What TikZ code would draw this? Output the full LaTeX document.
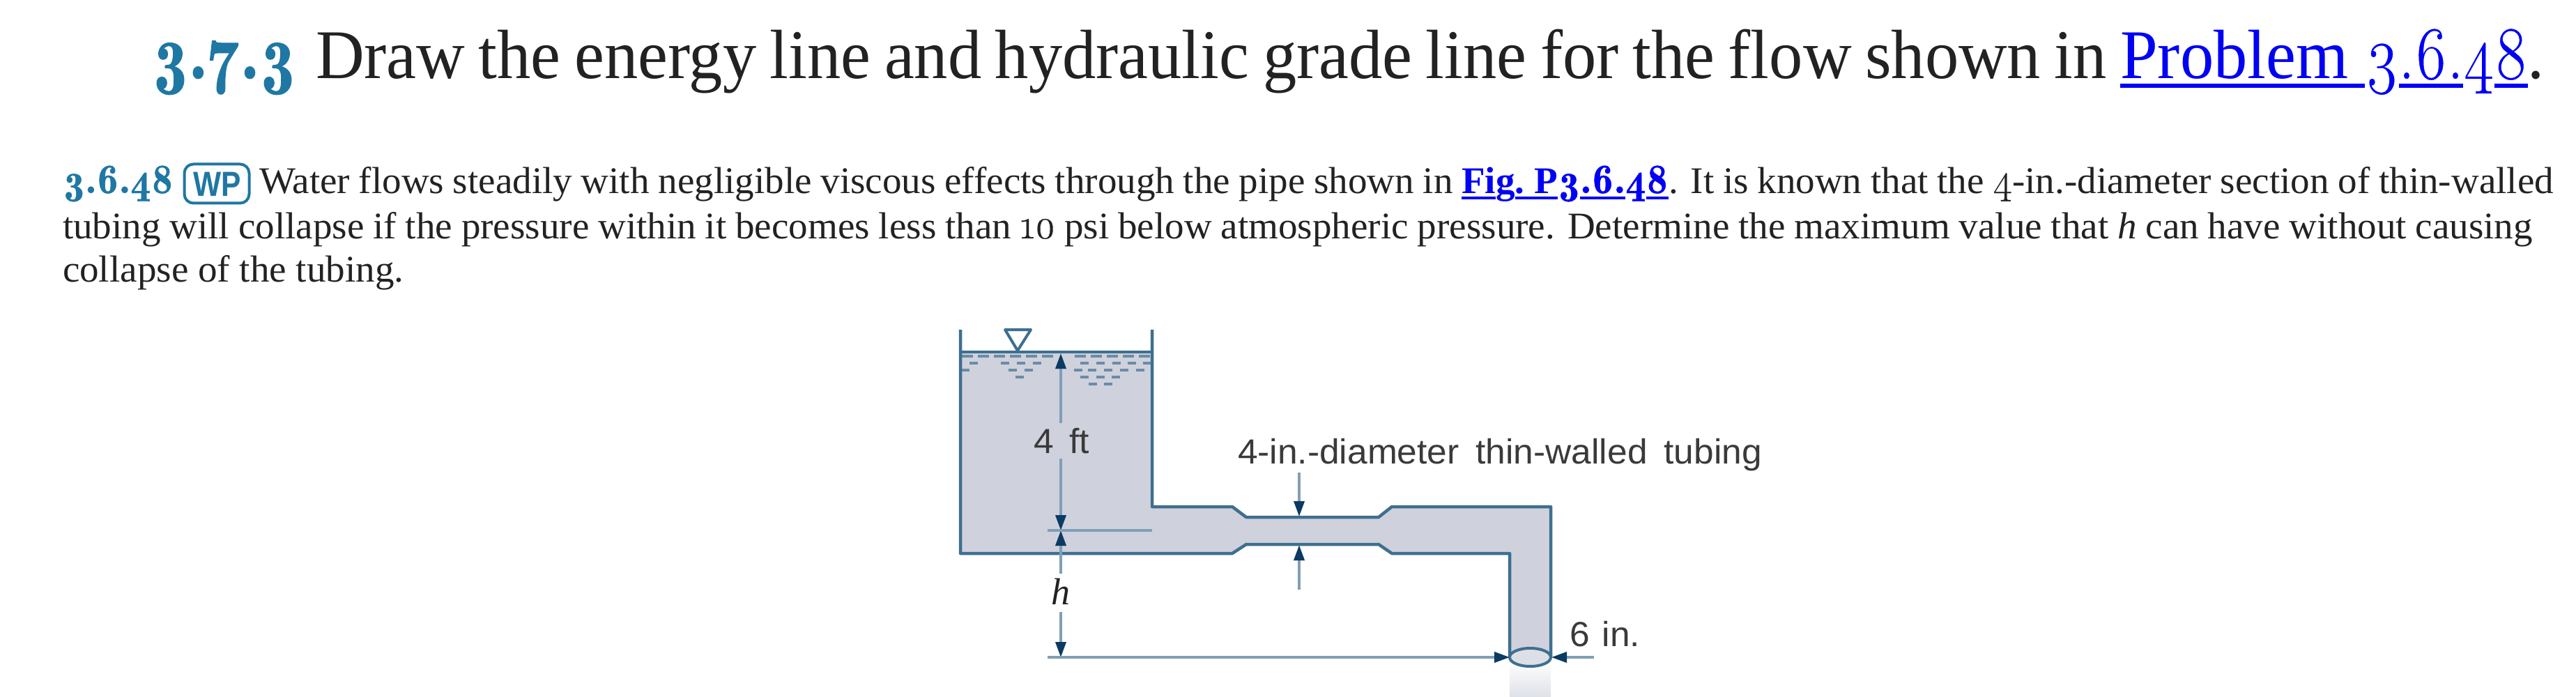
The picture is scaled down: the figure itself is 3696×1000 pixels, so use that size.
\documentclass[tikz,border=0pt]{standalone}
\usepackage{fontspec}
\usetikzlibrary{arrows.meta}
\setmainfont{Liberation Serif}
\newfontfamily\titlefam{Liberation Serif}[FakeStretch=0.965]
\newfontfamily\bodyfam{Liberation Serif}[FakeStretch=1.02]
\newfontfamily\numfam{Latin Modern Roman}[Numbers=OldStyle,FakeBold=0.6,FakeStretch=0.95]
\newfontfamily\numbfam{Latin Modern Roman Demi}[Numbers=OldStyle,FakeBold=0.8,FakeStretch=0.84]
\newfontfamily\numbodyfam{Latin Modern Roman Demi}[Numbers=OldStyle,FakeBold=0.8,FakeStretch=0.96]
\newfontfamily\numtfam{Latin Modern Roman}[Numbers=OldStyle,FakeBold=0.4,FakeStretch=0.84]
\newfontfamily\sansfam{Liberation Sans}[FakeStretch=1.03]
\newfontfamily\wpfam{Liberation Sans}[FakeStretch=0.85]
\definecolor{teal1}{HTML}{1F77A3}
\definecolor{linkblue}{HTML}{0000F5}
\definecolor{ink}{HTML}{222222}
\definecolor{wall}{HTML}{3E6F90}
\definecolor{dimc}{HTML}{7F9FB5}
\definecolor{headc}{HTML}{0B3A63}
\definecolor{waterc}{HTML}{CFD1DC}
\definecolor{sansc}{HTML}{3A3A3A}
% underline with a rule under the given text
\newcommand{\ulpart}[1]{\sbox0{#1}\rlap{\rule[-9pt]{\wd0}{4pt}}\box0\relax}
\newcommand{\ulparttitle}[1]{\sbox0{#1}\rlap{\rule[-13pt]{\wd0}{6pt}}\box0\relax}
\newcommand{\odig}[1]{{\numfam\fontsize{60}{62}\selectfont #1}}
\newcommand{\odigb}[1]{{\numbodyfam\fontsize{60}{62}\selectfont #1}}
\newcommand{\odigt}[1]{{\numtfam\fontsize{108}{120}\selectfont #1}}
\tikzset{
  x=1pt,y=-1pt,
  txt/.style={anchor=base west,inner sep=0pt,outer sep=0pt,text=ink},
  titletxt/.style={txt,font=\titlefam\fontsize{100}{110}\selectfont},
  bodytxt/.style={txt,font=\bodyfam\fontsize{54}{62}\selectfont},
  sanstxt/.style={txt,text=sansc,font=\sansfam\fontsize{50}{56}\selectfont},
  wallline/.style={draw=wall,line width=4.5pt,line join=round},
  dimline/.style={draw=dimc,line width=3.5pt},
  dimhead/.style={dimline,-{Triangle[length=22pt,width=15pt,color=headc,fill=headc]}},
  ripple/.style={draw=wall!70!waterc,line width=3.5pt},
}
\begin{document}
\begin{tikzpicture}
\useasboundingbox (0,0) rectangle (3696,1000);
\fill[white] (0,0) rectangle (3696,1000);
% Title
\node[titletxt,text=teal1] (titlenum) at (218,113) {\numbfam\fontsize{112}{120}\selectfont\hbox to 207pt{3\hfil.\hfil7\hfil.\hfil3}};
\node[titletxt] (title) at (453,113) {\hbox to 3198pt{Draw the energy line and hydraulic grade line for the flow shown in \textcolor{linkblue}{\ulparttitle{Problem }\odigt{3}\ulparttitle{\odigt{.6.}}\odigt{4}\ulparttitle{\odigt{8}}}\textcolor{ink}{.}}};
% Problem text
\node[bodytxt,text=teal1] (probnum) at (90,277) {\odigb{\hbox to 158pt{3\hfil.\hfil6\hfil.\hfil4\hfil8}}};
\node[draw=teal1,line width=4pt,rounded corners=13pt,minimum width=93pt,minimum height=56pt,inner sep=0pt] (wpbox) at (311,263.5) {};
\node[txt,text=teal1,font=\wpfam\bfseries\fontsize{50}{56}\selectfont] (wp) at (277,282) {WP};
\node[bodytxt] (line1) at (372,277) {\hbox to 3292pt{Water flows steadily with negligible viscous effects through the pipe shown in \textcolor{linkblue}{\bfseries\ulpart{Fi}g\ulpart{.\ P}\odigb{3}\ulpart{\odigb{.6.}}\odigb{4}\ulpart{\odigb{8}}}. It is known that the \odig{4}-in.-diameter section of thin-walled}};
\node[bodytxt] (line2) at (90,342) {\hbox to 3544pt{tubing will collapse if the pressure within it becomes less than \odig{10} psi below atmospheric pressure. Determine the maximum value that \textit{h} can have without causing}};
\node[bodytxt] (line3) at (90,404) {collapse of the tubing.};
% Liquid and pipe
\fill[waterc] (1378,505) -- (1653,505) -- (1653,727) -- (1768,727) -- (1788,742) -- (1978,742) -- (1997,727) -- (2225,727) -- (2225,943) -- (2166,943) -- (2166,794) -- (1997,794) -- (1978,781) -- (1788,781) -- (1768,794) -- (1378,794) -- cycle;
\shade[top color=white!96!waterc,bottom color=waterc!65!white] (2166,950) rectangle (2225,1000);
% Surface ripples
\foreach \px in {1388,1411,1434,1457,1480,1503,1550,1573,1596,1619,1642}
  \draw[ripple] (\px-8,511) -- (\px+8,511);
\foreach \px in {1397,1442,1465,1488,1556,1579,1602,1624,1646}
  \draw[ripple] (\px-6,521) -- (\px+6,521);
\foreach \px in {1385,1453,1476,1547,1567,1590,1613,1636}
  \draw[ripple] (\px-6,531) -- (\px+6,531);
\foreach \px in {1463,1556,1579,1601}
  \draw[ripple] (\px-6,541) -- (\px+6,541);
\foreach \px in {1568,1590}
  \draw[ripple] (\px-6,551) -- (\px+6,551);
% Walls
\draw[wallline] (1378,473) -- (1378,794) -- (1768,794) -- (1788,781) -- (1978,781) -- (1997,794) -- (2166,794) -- (2166,943);
\draw[wallline] (1653,473) -- (1653,727) -- (1768,727) -- (1788,742) -- (1978,742) -- (1997,727) -- (2225,727) -- (2225,943);
\draw[wallline] (1378,505) -- (1653,505);
\draw[wallline,line width=4pt] (1442,473) -- (1479,473) -- (1460,503) -- cycle;
% Outlet
\filldraw[fill=waterc!70!white,draw=wall,line width=4pt] (2195.5,943) ellipse [x radius=29.5,y radius=13];
% Labels
\node[sanstxt] (ft) at (1483,650) {\hbox to 80pt{4 ft}};
\node[txt,anchor=base,text=ink,font=\itshape\fontsize{54}{56}\selectfont] (hlab) at (1522,867) {h};
\node[sanstxt] (tube) at (1776,665) {\hbox to 752pt{4-in.-diameter thin-walled tubing}};
\node[sanstxt] (six) at (2252,927) {\hbox to 101pt{6 in.}};
% Dimension anchor points
\coordinate (surf) at (1522,507);
\coordinate (ftTop) at (1522,607);
\coordinate (ftBot) at (1522,658);
\coordinate (refL) at (1503,761);
\coordinate (refR) at (1653,761);
\coordinate (refM) at (1522,761);
\coordinate (hTop) at (1522,823);
\coordinate (hBot) at (1522,878);
\coordinate (baseL) at (1503,943);
\coordinate (baseM) at (1522,943);
\coordinate (outL) at (2166,943);
\coordinate (outR) at (2226,943);
\coordinate (outEnd) at (2287,943);
\coordinate (tubeTopStart) at (1864,678);
\coordinate (tubeTop) at (1864,741);
\coordinate (tubeBotStart) at (1864,846);
\coordinate (tubeBot) at (1864,782);
% Dimension lines
\draw[dimhead] (ftTop) -- (surf);
\draw[dimhead] (ftBot) -- (refM);
\draw[dimhead] (hTop) -- (refM);
\draw[dimhead] (hBot) -- (baseM);
\draw[dimline] (refL) -- (refR);
\draw[dimhead] (baseL) -- (outL);
\draw[dimhead] (outEnd) -- (outR);
\draw[dimhead] (tubeTopStart) -- (tubeTop);
\draw[dimhead] (tubeBotStart) -- (tubeBot);
\end{tikzpicture}
\end{document}
